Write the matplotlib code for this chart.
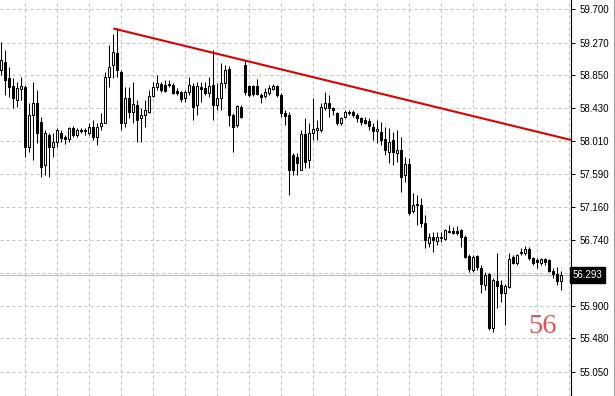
import numpy as np
import matplotlib
matplotlib.use("Agg")
import matplotlib.pyplot as plt
import matplotlib.transforms as mtransforms

# OHLC, one value per bar (oldest first)
opens = [
    58.918, 59.021, 58.816, 58.713, 58.534, 58.675, 58.700, 57.932, 58.342, 58.495,
    58.252, 57.701, 58.085, 57.932, 57.996, 58.111, 58.060, 58.034, 58.175, 58.085,
    58.150, 58.137, 58.111, 58.188, 58.060, 58.201, 58.239, 58.829, 58.982, 59.136,
    58.893, 58.239, 58.560, 58.380, 58.470, 58.303, 58.342, 58.380, 58.585, 58.700,
    58.739, 58.726, 58.726, 58.726, 58.649, 58.636, 58.560, 58.636, 58.713, 58.470,
    58.700, 58.688, 58.624, 58.726, 58.470, 58.560, 58.752, 58.931, 58.342, 58.214,
    58.444, 58.982, 58.713, 58.713, 58.713, 58.598, 58.585, 58.624, 58.675, 58.713,
    58.598, 58.367, 58.342, 57.829, 57.804, 57.637, 58.098, 57.765, 58.111, 58.150,
    58.150, 58.431, 58.495, 58.431, 58.367, 58.239, 58.316, 58.380, 58.380, 58.342,
    58.303, 58.278, 58.265, 58.188, 58.137, 58.124, 58.034, 57.868, 58.021, 57.855,
    57.893, 57.573, 57.714, 57.112, 57.189, 57.189, 56.958, 56.702, 56.779, 56.728,
    56.766, 56.753, 56.843, 56.856, 56.856, 56.868, 56.779, 56.536, 56.356, 56.536,
    56.382, 56.164, 56.305, 55.613, 56.215, 56.164, 56.061, 56.138, 56.523, 56.446,
    56.587, 56.574, 56.625, 56.510, 56.484, 56.446, 56.497, 56.484, 56.343, 56.305,
    56.215]
highs = [
    59.277, 59.174, 58.957, 58.816, 58.765, 58.829, 58.726, 58.495, 58.765, 58.662,
    58.316, 58.150, 58.111, 58.111, 58.175, 58.150, 58.085, 58.188, 58.201, 58.175,
    58.175, 58.175, 58.239, 58.278, 58.239, 58.367, 58.893, 59.239, 59.379, 59.456,
    58.918, 58.700, 58.700, 58.765, 58.534, 58.431, 58.534, 58.662, 58.765, 58.854,
    58.765, 58.790, 58.790, 58.752, 58.688, 58.649, 58.662, 58.829, 58.752, 58.765,
    58.765, 58.765, 58.829, 59.174, 58.752, 59.008, 58.982, 58.969, 58.367, 58.470,
    58.470, 59.046, 58.726, 58.726, 58.803, 58.624, 58.688, 58.726, 58.739, 58.726,
    58.624, 58.406, 58.380, 57.855, 57.855, 58.150, 58.303, 58.239, 58.560, 58.278,
    58.495, 58.636, 58.598, 58.444, 58.380, 58.316, 58.406, 58.406, 58.406, 58.367,
    58.316, 58.316, 58.303, 58.239, 58.278, 58.252, 58.188, 58.175, 58.124, 58.150,
    58.060, 57.804, 57.791, 57.342, 57.317, 57.278, 57.061, 56.830, 56.843, 56.843,
    56.843, 56.881, 56.933, 56.907, 56.920, 56.881, 56.805, 56.561, 56.548, 56.548,
    56.420, 56.330, 56.318, 56.254, 56.574, 56.228, 56.177, 56.574, 56.548, 56.561,
    56.638, 56.663, 56.651, 56.523, 56.510, 56.510, 56.510, 56.497, 56.382, 56.395,
    56.343]
lows = [
    58.854, 58.598, 58.572, 58.431, 58.444, 58.534, 57.804, 57.868, 57.765, 57.983,
    57.547, 57.573, 57.547, 57.804, 57.932, 57.996, 57.970, 57.996, 58.060, 58.060,
    58.111, 58.085, 58.085, 58.021, 57.957, 58.150, 58.239, 58.700, 58.816, 58.829,
    58.150, 58.188, 58.303, 58.239, 57.996, 57.996, 58.188, 58.367, 58.572, 58.662,
    58.636, 58.636, 58.700, 58.611, 58.598, 58.508, 58.508, 58.598, 58.278, 58.342,
    58.508, 58.598, 58.572, 58.278, 58.406, 58.406, 58.688, 58.201, 57.868, 58.188,
    58.303, 58.598, 58.572, 58.585, 58.598, 58.495, 58.560, 58.598, 58.662, 58.572,
    58.316, 58.214, 57.317, 57.573, 57.573, 57.637, 57.663, 57.663, 58.021, 58.021,
    58.124, 58.406, 58.316, 58.342, 58.214, 58.214, 58.303, 58.342, 58.316, 58.252,
    58.214, 58.226, 58.150, 58.021, 57.983, 57.957, 57.829, 57.727, 57.701, 57.740,
    57.355, 57.483, 57.061, 57.086, 56.933, 56.907, 56.638, 56.651, 56.587, 56.676,
    56.715, 56.740, 56.830, 56.817, 56.804, 56.651, 56.510, 56.330, 56.330, 56.356,
    56.061, 56.100, 55.587, 55.562, 55.869, 55.946, 55.651, 56.126, 56.433, 56.420,
    56.548, 56.548, 56.484, 56.420, 56.382, 56.420, 56.420, 56.330, 56.254, 56.164,
    56.100]
closes = [
    59.046, 58.790, 58.700, 58.560, 58.688, 58.713, 57.932, 58.342, 58.495, 58.111,
    57.676, 58.111, 57.932, 57.996, 58.150, 58.047, 58.034, 58.175, 58.085, 58.150,
    58.137, 58.150, 58.188, 58.060, 58.188, 58.239, 58.829, 58.957, 59.149, 58.918,
    58.239, 58.560, 58.380, 58.483, 58.278, 58.342, 58.406, 58.585, 58.700, 58.752,
    58.662, 58.649, 58.739, 58.624, 58.624, 58.547, 58.636, 58.726, 58.444, 58.713,
    58.675, 58.624, 58.713, 58.470, 58.560, 58.752, 58.918, 58.342, 58.188, 58.457,
    58.316, 58.636, 58.598, 58.611, 58.611, 58.572, 58.636, 58.688, 58.713, 58.598,
    58.367, 58.329, 57.637, 57.637, 57.727, 58.098, 57.740, 58.111, 58.162, 58.175,
    58.444, 58.495, 58.431, 58.406, 58.239, 58.303, 58.380, 58.367, 58.342, 58.303,
    58.252, 58.239, 58.201, 58.137, 58.162, 58.021, 57.893, 57.996, 57.868, 57.893,
    57.547, 57.714, 57.086, 57.189, 57.202, 56.958, 56.740, 56.779, 56.740, 56.779,
    56.779, 56.868, 56.856, 56.830, 56.830, 56.779, 56.523, 56.369, 56.523, 56.395,
    56.177, 56.292, 55.613, 56.228, 56.151, 56.061, 56.151, 56.497, 56.446, 56.548,
    56.574, 56.625, 56.510, 56.446, 56.459, 56.497, 56.459, 56.343, 56.305, 56.215,
    56.293]

price_ticks = [59.700, 59.270, 58.850, 58.430, 58.010, 57.590, 57.160,
               56.740, 56.320, 55.900, 55.480, 55.050]
hidden_tick = 56.320          # sits under the last-price box
last_price = 56.293
# trend line anchors: (bar index, price)
trend_x = [28, 142.4]
trend_y = [59.45, 58.022]
label_text = "56"

o = np.array(opens)
h = np.array(highs)
l = np.array(lows)
c = np.array(closes)
x = np.arange(len(o))

fig = plt.figure(figsize=(6.15, 3.96), dpi=100)
ax = fig.add_axes([0, 0, 571 / 615, 1])
ax.set_xlim(-0.325, 142.4)
ax.set_ylim(54.742, 59.815)

# grid (MT4 style dashed)
grid_kw = dict(color="#c4c4c4", lw=0.72, dashes=(3, 3), zorder=0)
for p in price_ticks:
    ax.axhline(p, **grid_kw)
for gx in np.arange(6, 143, 8):
    ax.axvline(gx, **grid_kw)
ax.axhline(last_price, color="#c0c0c0", lw=0.9, zorder=0.5)

# candles
ax.vlines(x, l, h, color="black", lw=0.75, zorder=2)
up = c >= o
bot = np.minimum(o, c)
hgt = np.abs(c - o)
ax.bar(x[up], hgt[up], bottom=bot[up], width=0.5, facecolor="white",
       edgecolor="black", lw=0.75, zorder=3)
ax.bar(x[~up], hgt[~up], bottom=bot[~up], width=0.5, facecolor="black",
       edgecolor="black", lw=0.75, zorder=3)

# trend line
ax.plot(trend_x, trend_y, color="#dd0000", lw=1.5, zorder=4,
        solid_capstyle="butt")

ax.text(131.7, 55.549, label_text, color="#e85050", fontsize=20.5,
        family="Liberation Serif", ha="left", va="baseline", zorder=5)

# axes / ticks
for s in ["left", "top", "bottom"]:
    ax.spines[s].set_visible(False)
ax.spines["right"].set_color("black")
ax.spines["right"].set_linewidth(0.8)
ax.set_xticks([])
ax.yaxis.tick_right()
ax.set_yticks(price_ticks)
ax.set_yticklabels(["" if p == hidden_tick else f"{p:.3f}"
                    for p in price_ticks])
ax.tick_params(axis="y", direction="out", length=3, width=0.7, pad=3,
               labelsize=7, colors="black")
for t in ax.get_yticklabels():
    t.set_family("Liberation Sans")

trans = mtransforms.blended_transform_factory(ax.transAxes, ax.transData)
ax.text(1.0025, last_price, f"{last_price:.3f}", transform=trans,
        color="white", fontsize=7, family="Liberation Sans", ha="left",
        va="center", zorder=10, clip_on=False,
        bbox=dict(boxstyle="square,pad=0.3", fc="black", ec="black"))

fig.add_artist(plt.Line2D([613.5 / 615, 613.5 / 615], [0, 1],
                          color="#a0a0a0", lw=0.8))

fig.savefig("out.png", dpi=100)
